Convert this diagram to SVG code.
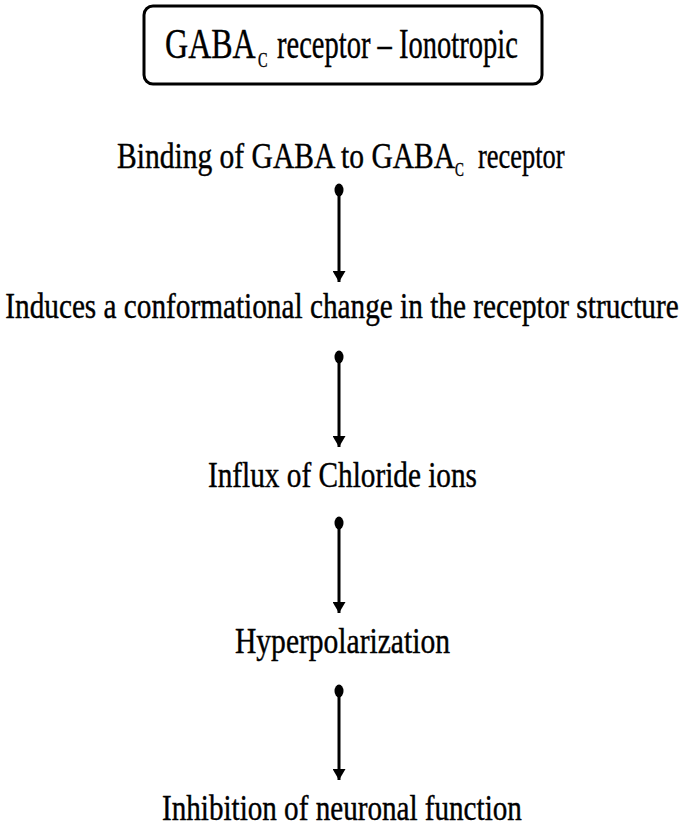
<svg xmlns="http://www.w3.org/2000/svg" width="685" height="829" viewBox="0 0 685 829">
<defs>
<style>
text{font-family:"Liberation Serif","Times New Roman",serif;fill:#000;stroke:#000;stroke-width:0.4}
.t{font-size:43px}
.b{font-size:36px}
.s{font-size:21px}
.ss{font-size:19px}
.conn line{stroke:#000;stroke-width:3}
.conn ellipse{fill:#000}
</style>
<marker id="ah" viewBox="0 0 11 13" refX="11" refY="6.5" markerWidth="11" markerHeight="13" markerUnits="userSpaceOnUse" orient="auto">
<path d="M0,0 L11,6.5 L0,13 Z" fill="#000"/>
</marker>
</defs>
<rect width="685" height="829" fill="#fff"/>
<g id="title">
<rect x="144" y="6" width="398" height="78" rx="9" fill="#fff" stroke="#000" stroke-width="3"/>
<text class="t" transform="translate(165,58) scale(0.745,1)">GABA</text>
<text class="s" transform="translate(258,67) scale(0.68,1)">C</text>
<text class="t" transform="translate(277,58) scale(0.664,1)">receptor – Ionotropic</text>
</g>
<g id="binding">
<text class="b" transform="translate(117,168) scale(0.821,1)">Binding of GABA to GABA</text>
<text class="ss" transform="translate(455,176) scale(0.7,1)">C</text>
<text class="b" transform="translate(478,168) scale(0.735,1)">receptor</text>
</g>
<g id="conformation">
<text class="b" transform="translate(342,318) scale(0.813,1)" text-anchor="middle">Induces a conformational change in the receptor structure</text>
</g>
<g id="influx">
<text class="b" transform="translate(208,487) scale(0.813,1)">Influx of Chloride ions</text>
</g>
<g id="hyperpolarization">
<text class="b" transform="translate(235,653) scale(0.821,1)">Hyperpolarization</text>
</g>
<g id="inhibition">
<text class="b" transform="translate(162,820) scale(0.809,1)">Inhibition of neuronal function</text>
</g>
<g id="connectors" class="conn">
<ellipse cx="339" cy="190" rx="4.5" ry="6.5"/>
<line x1="339" y1="190" x2="339" y2="282" marker-end="url(#ah)"/>
<ellipse cx="339" cy="357" rx="4.5" ry="6.5"/>
<line x1="339" y1="357" x2="339" y2="447" marker-end="url(#ah)"/>
<ellipse cx="339" cy="523" rx="4.5" ry="6.5"/>
<line x1="339" y1="523" x2="339" y2="613" marker-end="url(#ah)"/>
<ellipse cx="339" cy="691" rx="4.5" ry="6.5"/>
<line x1="339" y1="691" x2="339" y2="780" marker-end="url(#ah)"/>
</g>
</svg>
